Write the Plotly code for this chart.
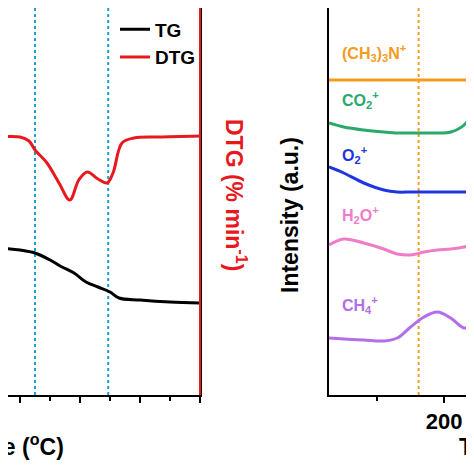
import plotly.graph_objects as go

# left panel: TG / DTG vs temperature (y in arbitrary height units)
tg_t = [566, 600, 625, 650, 670, 690, 710, 730, 750, 765, 800, 850, 900]
tg_y = [147, 145, 142, 135, 128, 122, 113, 108, 103, 97, 95, 93, 92]
dtg_t = [566, 600, 615, 625, 645, 665, 683, 698, 712, 730, 745, 755, 770, 790, 830, 900]
dtg_y = [258, 258, 254, 245, 232, 212, 195, 215, 223, 216, 212, 222, 252, 257, 258, 259]
vlines_left = [625, 747]
left_ticks = [600, 700, 800, 900]
left_tick_text = ["<b>600</b>", "<b>700</b>", "<b>800</b>", "<b>900</b>"]

# right panel: MS signals vs temperature
ms_t = [114, 125, 140, 155, 165, 175, 185, 195, 205, 215, 222]
orange = [315] * 11
co2 = [272, 268, 265, 263, 262, 262, 262, 262, 263, 270, 285]
o2 = [228, 222, 212, 205, 203, 203, 203, 203, 203, 203, 203]
h2o = [150, 156, 152, 146, 141, 140, 143, 145, 146, 148, 150]
ch4 = [57, 56, 55, 54, 57, 68, 78, 83, 77, 67, 70]
vline_right = 181

labels = ["(CH<sub>3</sub>)<sub>3</sub>N<sup>+</sup>", "CO<sub>2</sub><sup>+</sup>", "O<sub>2</sub><sup>+</sup>",
          "H<sub>2</sub>O<sup>+</sup>", "CH<sub>4</sub><sup>+</sup>"]
colors = ["#f39c1f", "#2aa96a", "#1f35e0", "#f07cc8", "#b36ee8"]
label_y = [342, 295, 240, 180, 90]

# page has an 8px body margin, so everything is placed 8px up/left
W = 474.0
fig = go.Figure()
dot_blue = "#1a9fd0"
for v in vlines_left:
    fig.add_trace(go.Scatter(x=[v, v], y=[0, 390], mode="lines", showlegend=False,
                             line=dict(color=dot_blue, width=2, dash="dot"), xaxis="x", yaxis="y"))
fig.add_trace(go.Scatter(x=tg_t, y=tg_y, mode="lines", name="<b>TG</b>", line=dict(color="black", width=3, shape="spline"),
                         xaxis="x", yaxis="y"))
fig.add_trace(go.Scatter(x=dtg_t, y=dtg_y, mode="lines", name="<b>DTG</b>", line=dict(color="#e8191e", width=3, shape="spline"),
                         xaxis="x", yaxis="y"))
# left tick labels as a text trace below the axis
fig.add_trace(go.Scatter(x=left_ticks, y=[-22] * len(left_ticks), mode="text", text=left_tick_text,
                         textfont=dict(size=22, family="Arial", color="black"), cliponaxis=False,
                         showlegend=False, hoverinfo="skip", xaxis="x", yaxis="y"))

fig.add_trace(go.Scatter(x=[vline_right, vline_right], y=[0, 390], mode="lines", showlegend=False,
                         line=dict(color="#f0a020", width=2, dash="dot"), xaxis="x2", yaxis="y2"))
for ys, c in zip([orange, co2, o2, h2o, ch4], colors):
    fig.add_trace(go.Scatter(x=ms_t, y=ys, mode="lines", showlegend=False,
                             line=dict(color=c, width=3, shape="spline"), xaxis="x2", yaxis="y2"))
for lab, c, ly in zip(labels, colors, label_y):
    fig.add_annotation(x=122, y=ly, xref="x2", yref="y2", text="<b>" + lab + "</b>", showarrow=False, xanchor="left",
                       font=dict(size=16, color=c, family="Arial"))

ax = dict(showgrid=False, zeroline=False, linecolor="black", linewidth=2, ticks="outside", ticklen=6,
          tickwidth=2, tickcolor="black", automargin=False,
          tickfont=dict(size=22, family="Arial", color="black", weight="bold"))
fig.update_layout(
    width=474, height=474, margin=dict(l=0, r=0, t=0, b=0, autoexpand=False),
    plot_bgcolor="white", paper_bgcolor="white",
    xaxis=dict(ax, domain=[0, 192 / W], range=[580, 900], tickvals=left_ticks, showticklabels=False, mirror=True,
               minor=dict(dtick=50, ticks="outside", ticklen=4, tickcolor="black")),
    yaxis=dict(ax, domain=[87 / W, 1], range=[0, 387], showticklabels=False, ticks="", mirror=True),
    xaxis2=dict(ax, domain=[321 / W, 466 / W], range=[114, 222.4], dtick=100, anchor="y2", mirror=True,
                minor=dict(dtick=50, ticks="outside", ticklen=4, tickcolor="black")),
    yaxis2=dict(ax, domain=[87 / W, 1], range=[0, 387], showticklabels=False, ticks="",
                anchor="x2", mirror=False),
    legend=dict(x=107 / W, y=0.995, bgcolor="rgba(0,0,0,0)", font=dict(size=19, family="Arial", color="black"),
                itemwidth=30, tracegroupgap=0),
)
fig.add_shape(type="line", xref="paper", yref="paper", x0=192 / W, x1=192 / W, y0=87 / W, y1=1,
              line=dict(color="#e8191e", width=2))
fig.add_annotation(x=58 / W, y=37 / W, xref="paper", yref="paper", xanchor="right", yanchor="middle", showarrow=False,
                   text="<b>Temperature (<sup>o</sup>C)</b>", font=dict(size=23, family="Arial", color="black"))
fig.add_annotation(x=449 / W, y=37 / W, xref="paper", yref="paper", xanchor="left", yanchor="middle", showarrow=False,
                   text="<b>Temperature (<sup>o</sup>C)</b>", font=dict(size=23, family="Arial", color="black"))
fig.add_annotation(x=228 / W, y=287 / W, xref="paper", yref="paper", textangle=90, showarrow=False,
                   text="<b>DTG (% min<sup>-1</sup>)</b>", font=dict(size=23, family="Arial", color="#e8191e"))
fig.add_annotation(x=282 / W, y=267 / W, xref="paper", yref="paper", textangle=-90, showarrow=False,
                   text="<b>Intensity (a.u.)</b>", font=dict(size=23, family="Arial", color="black"))
fig.write_html("out.html")
